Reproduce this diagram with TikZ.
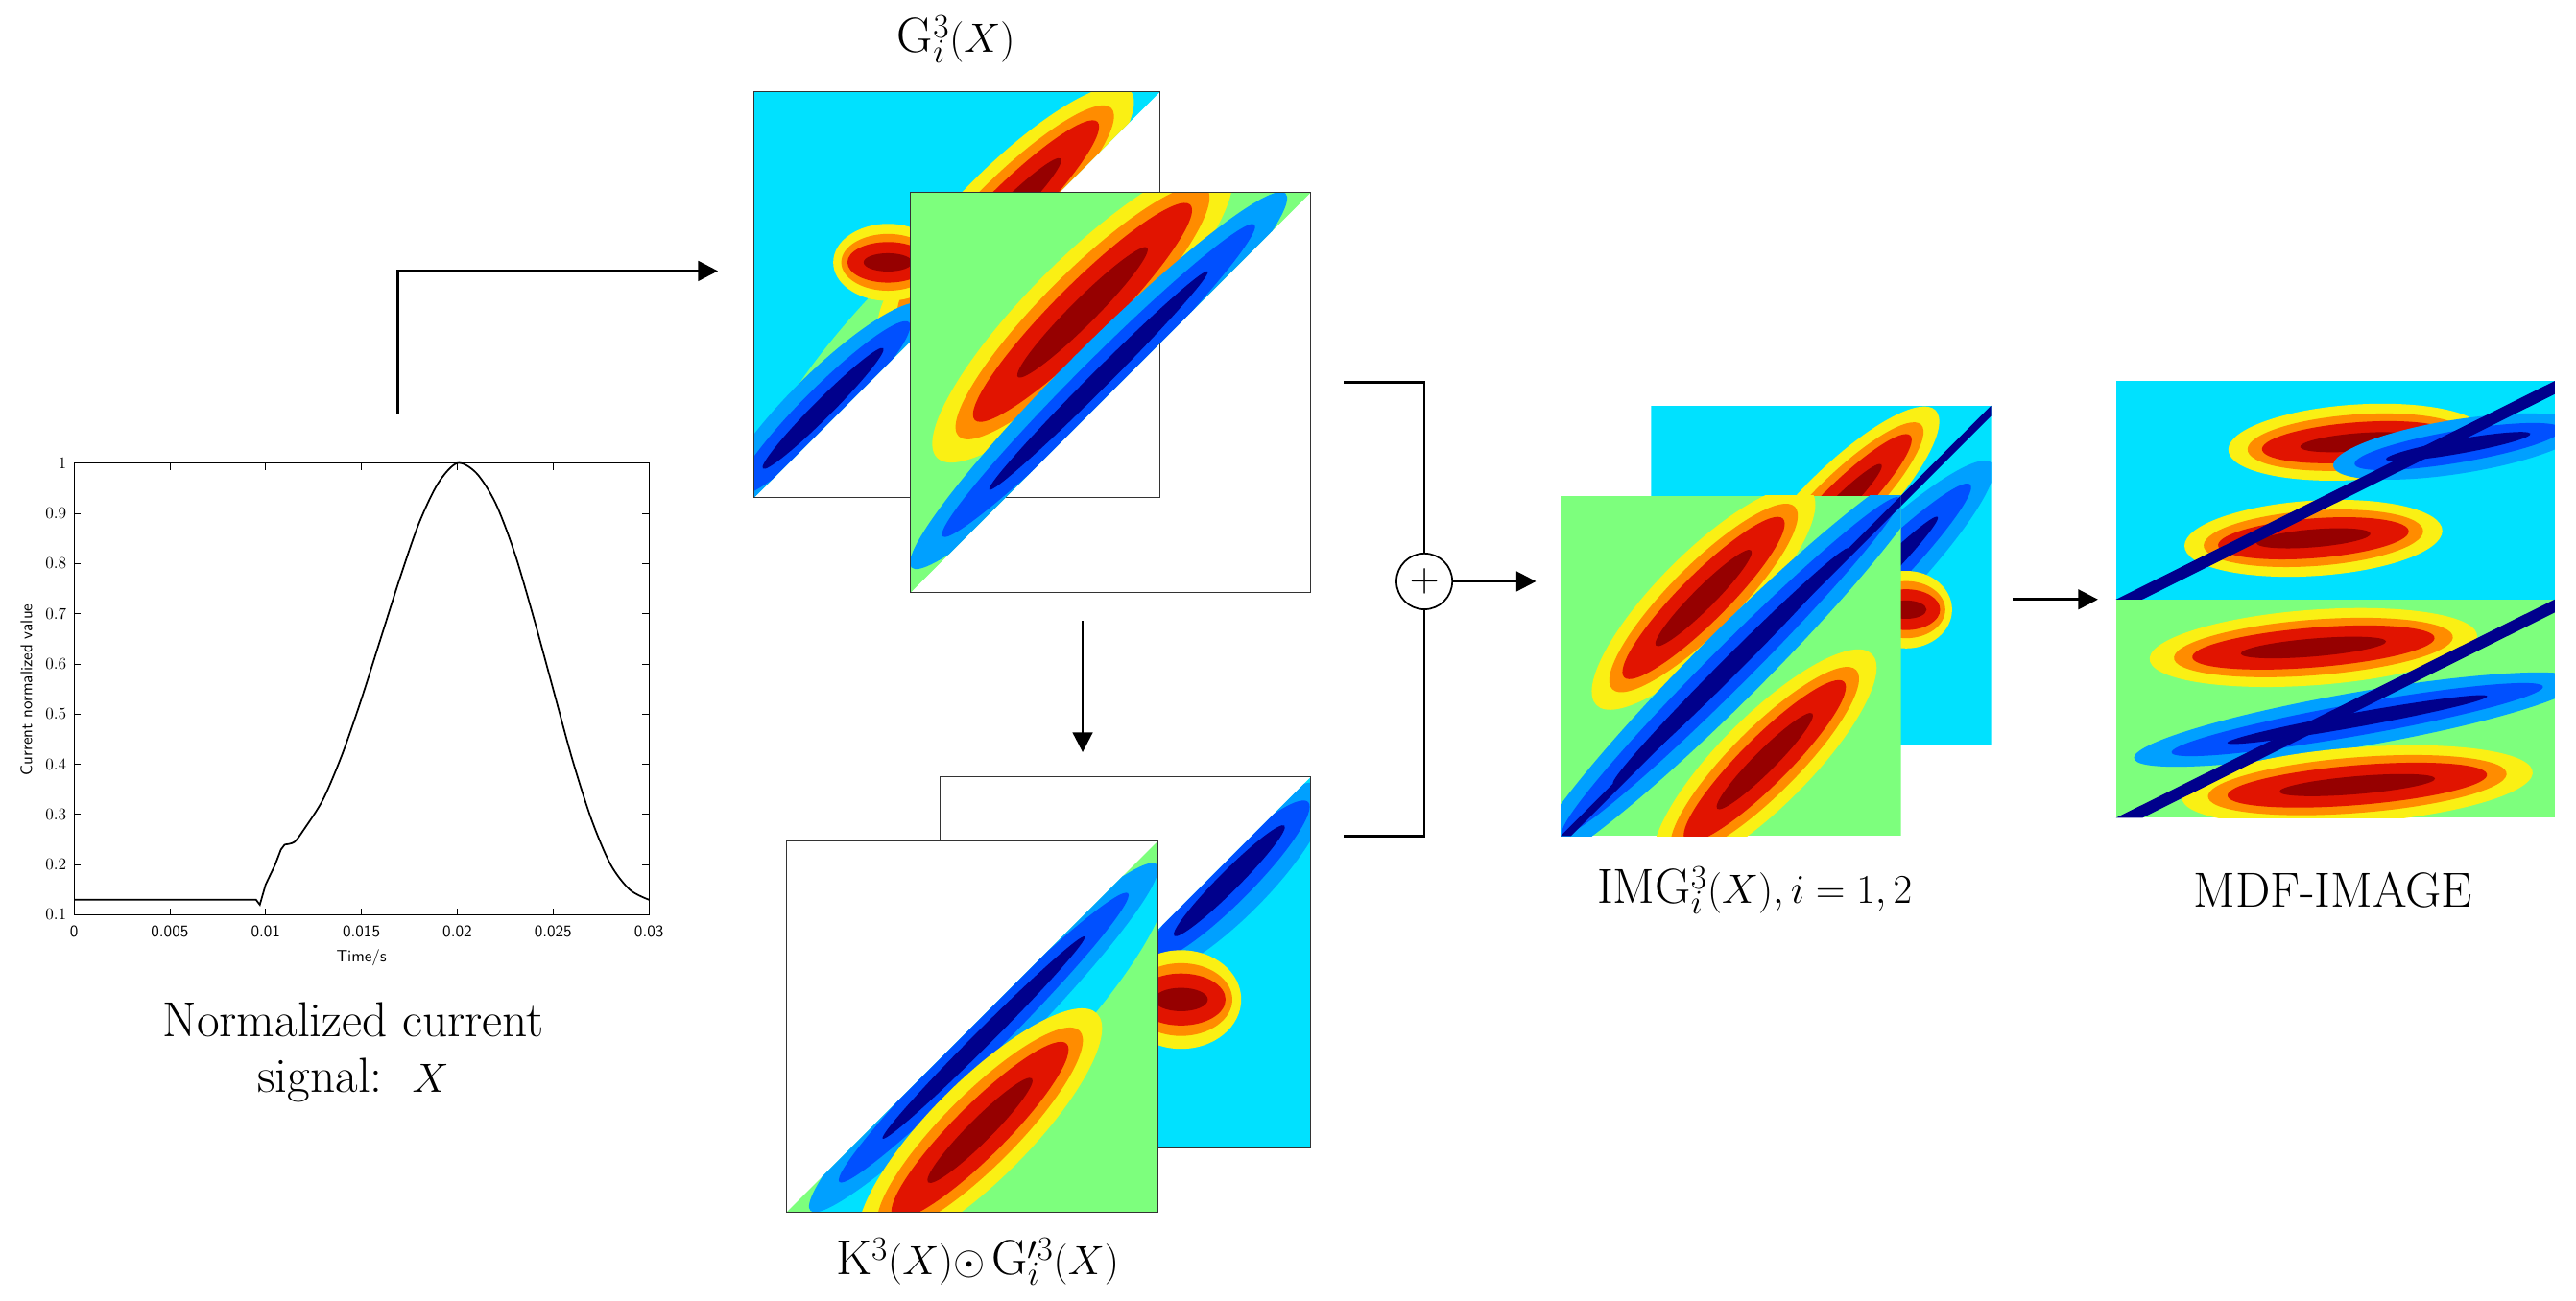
\documentclass[tikz,border=0pt]{standalone}
\usetikzlibrary{arrows.meta}
\definecolor{jcyan}{RGB}{0,225,255}
\definecolor{jgreen}{RGB}{125,255,125}
\definecolor{jyellow}{RGB}{250,240,20}
\definecolor{jorange}{RGB}{255,140,0}
\definecolor{jred}{RGB}{225,20,0}
\definecolor{jdred}{RGB}{150,0,0}
\definecolor{jblue}{RGB}{0,80,255}
\definecolor{jlblue}{RGB}{0,160,255}
\definecolor{jdblue}{RGB}{0,0,140}
\tikzset{
 arr/.style={line width=1.6pt,-{Triangle[length=12pt,width=12pt]}},
 brk/.style={line width=1.6pt},
 frame/.style={draw=black!80,line width=0.6pt},
 lbl/.style={font=\fontsize{30}{34}\selectfont},
 tick/.style={font=\sffamily\fontsize{10}{12}\selectfont}
}
\newcommand{\hotband}[4]{%
 \fill[jyellow] (#1) ellipse[x radius=#2*1.35,y radius=#3*1.9,rotate=#4];
 \fill[jorange] (#1) ellipse[x radius=#2*1.15,y radius=#3*1.4,rotate=#4];
 \fill[jred] (#1) ellipse[x radius=#2,y radius=#3,rotate=#4];
 \fill[jdred] (#1) ellipse[x radius=#2*0.6,y radius=#3*0.45,rotate=#4];}
\newcommand{\coldband}[4]{%
 \fill[jlblue] (#1) ellipse[x radius=#2*1.2,y radius=#3*1.7,rotate=#4];
 \fill[jblue] (#1) ellipse[x radius=#2,y radius=#3,rotate=#4];
 \fill[jdblue] (#1) ellipse[x radius=#2*0.7,y radius=#3*0.45,rotate=#4];}
\begin{document}
\begin{tikzpicture}[x=1pt,y=-1pt]
\useasboundingbox (0,0) rectangle (1568,792);
\fill[white] (0,0) rectangle (1568,792);
% ---------- plot ----------
\draw[line width=0.6pt] (45,282) rectangle (395,557);
\foreach \v in {0.1,0.2,0.3,0.4,0.5,0.6,0.7,0.8,0.9,1}{
 \pgfmathsetmacro\yy{557-(\v-0.1)*305.56}
 \draw (45,\yy) -- ++(4,0); \draw (395,\yy) -- ++(-4,0);
 \node[tick,anchor=east] at (44,\yy) {\pgfmathprintnumber{\v}};}
\foreach \t/\l in {0/0,5/0.005,10/0.01,15/0.015,20/0.02,25/0.025,30/0.03}{
 \pgfmathsetmacro\xx{45+\t*11.667}
 \draw (\xx,557) -- ++(0,-4); \draw (\xx,282) -- ++(0,4);
 \node[tick,anchor=north] at (\xx,560) {\l};}
\node[tick] at (220,583) {Time/s};
\node[tick,rotate=90] at (16,420) {Current normalized value};
\begin{scope}[shift={(45,557)},xscale=11.667,yscale=-305.56]
\draw[line width=1pt] (0,0.03) -- (9.5,0.03) -- (9.7,0.02) -- (10,0.06) -- (10.5,0.1) -- (10.8,0.13) -- (11,0.14)
 plot[smooth] coordinates {(11,0.14) (11.5,0.145) (12,0.17) (13,0.23) (14,0.32) (15,0.43) (16,0.55) (17,0.67) (18,0.78) (19,0.86) (20,0.9) (21,0.88) (22,0.82) (23,0.72) (24,0.59) (25,0.45) (26,0.31) (27,0.19) (28,0.1) (29,0.05) (30,0.03)};
\end{scope}
\node[lbl,align=center] (sig) at (215,641) {Normalized current\\signal:\ \ $X$};
% ---------- G panels ----------
\coordinate (a0) at (242,252); \coordinate (a1) at (242,165); \coordinate (a2) at (437,165);
\draw[arr] (a0) -- (a1) -- (a2);
\begin{scope}[shift={(459,56)},scale=247]
 \begin{scope}\clip (0,0) -- (1,0) -- (0,1) -- cycle;
  \fill[jcyan] (0,0) rectangle (1,1);
  \fill[jgreen] (0.45,0.55) ellipse[x radius=0.6,y radius=0.15,rotate=45];
  \hotband{0.62,0.3}{0.32}{0.06}{45}
  \hotband{0.33,0.42}{0.1}{0.05}{0}
  \coldband{0.17,0.78}{0.3}{0.05}{45}
 \end{scope}
 \draw[frame] (0,0) rectangle (1,1);
\end{scope}
\node[lbl] (glab) at (582,24) {G$_i^3(X)$};
\begin{scope}[shift={(554,117)},scale=244]
 \begin{scope}\clip (0,0) -- (1,0) -- (0,1) -- cycle;
  \fill[jgreen] (0,0) rectangle (1,1);
  \hotband{0.43,0.3}{0.38}{0.07}{45}
  \coldband{0.47,0.47}{0.55}{0.05}{45}
 \end{scope}
 \draw[frame] (0,0) rectangle (1,1);
\end{scope}
\coordinate (d0) at (659,378); \coordinate (d1) at (659,458);
\draw[arr] (d0) -- (d1);
% ---------- K panels ----------
\begin{scope}[shift={(572,473)},scale=226]
 \begin{scope}\clip (0,1) -- (1,0) -- (1,1) -- cycle;
  \fill[jcyan] (0,0) rectangle (1,1);
  \coldband{0.78,0.28}{0.3}{0.06}{45}
  \hotband{0.65,0.6}{0.12}{0.07}{0}
 \end{scope}
 \draw[frame] (0,0) rectangle (1,1);
\end{scope}
\begin{scope}[shift={(479,512)},scale=226]
 \fill[white] (0,0) rectangle (1,1);
 \begin{scope}\clip (0,1) -- (1,0) -- (1,1) -- cycle;
  \fill[jgreen] (0,0) rectangle (1,1);
  \fill[jcyan] (0.55,0.55) ellipse[x radius=0.65,y radius=0.15,rotate=45];
  \coldband{0.53,0.53}{0.55}{0.05}{45}
  \hotband{0.52,0.78}{0.33}{0.07}{45}
 \end{scope}
 \draw[frame] (0,0) rectangle (1,1);
\end{scope}
\node[lbl] (klab) at (595,768) {K$^3(X)\odot\,$G$'^3_i(X)$};
% ---------- bracket & sum ----------
\coordinate (b0) at (818,233); \coordinate (b1) at (867,233);
\coordinate (b2) at (867,509); \coordinate (b3) at (818,509);
\draw[brk] (b0) -- (b1) -- (b2) -- (b3);
\node[circle,draw,fill=white,line width=1pt,minimum size=34pt,inner sep=0pt,font=\fontsize{26}{26}\selectfont] (plus) at (867,354) {$+$};
\coordinate (p1) at (935,354);
\draw[arr] (plus.east) -- (p1);
% ---------- IMG panels ----------
\begin{scope}[shift={(1005,247)},scale=207]
 \begin{scope}\clip (0,0) rectangle (1,1);
  \fill[jcyan] (0,0) rectangle (1,1);
  \hotband{0.55,0.3}{0.3}{0.06}{45}
  \coldband{0.62,0.55}{0.45}{0.06}{45}
  \hotband{0.75,0.6}{0.1}{0.06}{0}
  \fill[jdblue] (0,1) -- (1,0) -- (1,0.03) -- (0.03,1) -- cycle;
 \end{scope}
\end{scope}
\begin{scope}[shift={(950,302)},scale=207]
 \begin{scope}\clip (0,0) rectangle (1,1);
  \fill[jgreen] (0,0) rectangle (1,1);
  \hotband{0.42,0.3}{0.33}{0.07}{45}
  \coldband{0.5,0.5}{0.7}{0.06}{45}
  \hotband{0.6,0.78}{0.33}{0.07}{45}
  \fill[jdblue] (0,1) -- (1,0) -- (1,0.03) -- (0.03,1) -- cycle;
 \end{scope}
\end{scope}
\node[lbl] (ilab) at (1068,542) {IMG$_i^3(X), i=1,2$};
\coordinate (m0) at (1225,365); \coordinate (m1) at (1277,365);
\draw[arr] (m0) -- (m1);
% ---------- MDF ----------
\begin{scope}[shift={(1288,232)},xscale=267,yscale=133]
 \begin{scope}\clip (0,0) rectangle (1,1);
  \fill[jcyan] (0,0) rectangle (1,1);
  \hotband{0.55,0.28}{0.22}{0.09}{10}
  \hotband{0.45,0.72}{0.22}{0.09}{10}
  \coldband{0.78,0.3}{0.25}{0.07}{20}
  \fill[jdblue] (0,1) -- (1,0) -- (1,0.06) -- (0.06,1) -- cycle;
 \end{scope}
\end{scope}
\begin{scope}[shift={(1288,365)},xscale=267,yscale=133]
 \begin{scope}\clip (0,0) rectangle (1,1);
  \fill[jgreen] (0,0) rectangle (1,1);
  \hotband{0.45,0.22}{0.28}{0.09}{10}
  \coldband{0.55,0.55}{0.45}{0.07}{20}
  \hotband{0.55,0.85}{0.3}{0.09}{10}
  \fill[jdblue] (0,1) -- (1,0) -- (1,0.06) -- (0.06,1) -- cycle;
 \end{scope}
\end{scope}
\node[lbl] (mlab) at (1420,542) {MDF-IMAGE};
\end{tikzpicture}
\end{document}
